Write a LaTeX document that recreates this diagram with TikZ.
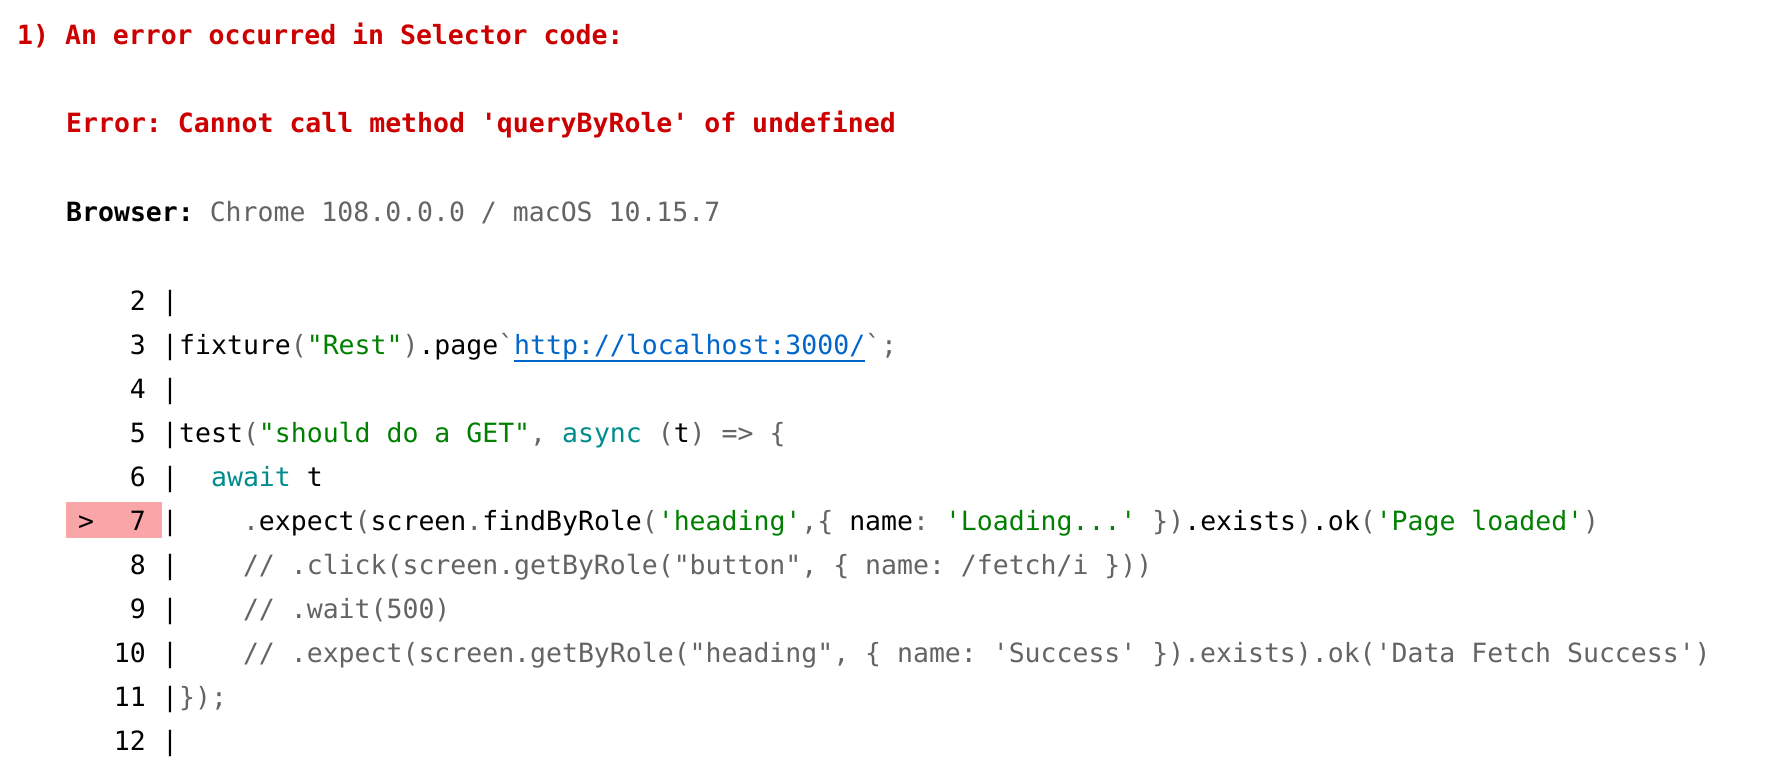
\documentclass[tikz,border=0pt]{standalone}
\usepackage{fontspec}
\setmonofont{DejaVu Sans Mono}
\usepackage{xcolor}
\definecolor{errred}{RGB}{204,0,0}
\definecolor{strgreen}{RGB}{0,128,0}
\definecolor{kwteal}{RGB}{0,140,140}
\definecolor{linkblue}{RGB}{0,102,204}
\definecolor{cmgrey}{RGB}{100,100,100}
\definecolor{hl}{RGB}{250,165,168}
\newcommand{\gs}[1]{\textcolor{strgreen}{#1}}
\newcommand{\cg}[1]{\textcolor{cmgrey}{#1}}
\newcommand{\kw}[1]{\textcolor{kwteal}{#1}}
\begin{document}
\begin{tikzpicture}[x=1pt,y=-1pt,
  txt/.style={anchor=base west,inner sep=0pt,font=\ttfamily\fontsize{26.5}{30}\selectfont},
  num/.style={anchor=base east,inner sep=0pt,font=\ttfamily\fontsize{26.5}{30}\selectfont},
  bar/.style={anchor=base,inner sep=0pt,font=\ttfamily\fontsize{26.5}{30}\selectfont}]
\useasboundingbox[fill=white] (0,0) rectangle (1782,778);
\node[txt,text=errred,font=\ttfamily\bfseries\fontsize{26.5}{30}\selectfont] (h1) at (17,45) {1) An error occurred in Selector code:};
\node[txt,text=errred,font=\ttfamily\bfseries\fontsize{26.5}{30}\selectfont] (h2) at (66,133) {Error: Cannot call method 'queryByRole' of undefined};
\node[txt] (h3) at (66,222) {\textbf{Browser:} \cg{Chrome 108.0.0.0 / macOS 10.15.7}};
\fill[hl] (66,502) rectangle (162,538);
\node[txt] (arr) at (78,530) {>};
\foreach \n in {2,...,12}{
  \node[num] (n\n) at (146,{310+44*(\n-2)}) {\n};
  \node[bar] (b\n) at (170,{310+44*(\n-2)}) {|};
}
\node[txt] (c3) at (179,354) {fixture\cg{(}\gs{"Rest"}\cg{)}.page\cg{`}\textcolor{linkblue}{http://localhost:3000/}\cg{`;}};
\draw[linkblue,line width=1.5pt] (c3.base west) ++(335,7) -- ++(351,0);
\node[txt] (c5) at (179,442) {test\cg{(}\gs{"should do a GET"}\cg{,} \kw{async} \cg{(}t\cg{)} \cg{=> \{}};
\node[txt] (c6) at (179,486) {~~\kw{await} t};
\node[txt] (c7) at (179,530) {~~~~\cg{.}expect\cg{(}screen\cg{.}findByRole\cg{(}\gs{'heading'}\cg{,\{} name\cg{:} \gs{'Loading...'} \cg{\})}.exists\cg{)}.ok\cg{(}\gs{'Page loaded'}\cg{)}};
\node[txt,text=cmgrey] (c8) at (179,574) {~~~~// .click(screen.getByRole("button", \{ name: /fetch/i \}))};
\node[txt,text=cmgrey] (c9) at (179,618) {~~~~// .wait(500)};
\node[txt,text=cmgrey] (c10) at (179,662) {~~~~// .expect(screen.getByRole("heading", \{ name: 'Success' \}).exists).ok('Data Fetch Success')};
\node[txt,text=cmgrey] (c11) at (179,706) {\});};
\end{tikzpicture}
\end{document}
